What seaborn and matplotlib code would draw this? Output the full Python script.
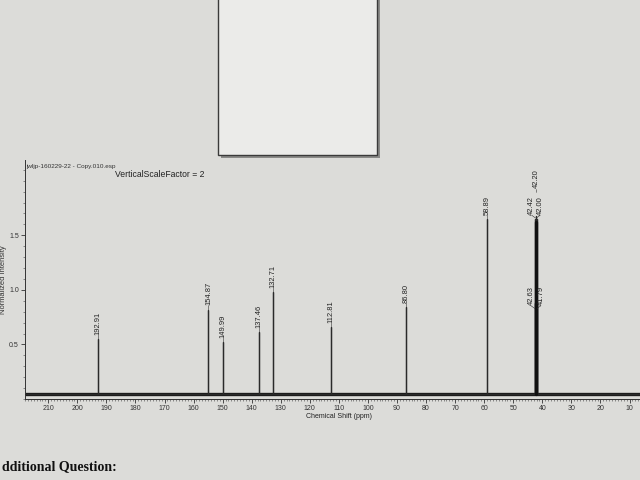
import matplotlib
matplotlib.use("Agg")
import matplotlib.pyplot as plt
from matplotlib.patches import Rectangle
from matplotlib.ticker import MultipleLocator
import seaborn as sns
import pandas as pd

# ---- data ----
peak_ppm = [192.91, 154.87, 149.99, 137.46, 132.71, 112.81, 86.80, 58.89,
            42.63, 42.42, 42.20, 42.00, 41.79]
peak_int = [0.55, 0.82, 0.52, 0.61, 0.98, 0.66, 0.84, 1.65,
            0.88, 1.65, 1.68, 1.65, 0.88]
peak_labels = ["192.91", "154.87", "149.99", "137.46", "132.71", "112.81",
               "86.80", "58.89", "42.63", "42.42", "42.20", "42.00", "41.79"]
baseline_int = 0.05
x_ticks = [210, 200, 190, 180, 170, 160, 150, 140, 130, 120, 110, 100,
           90, 80, 70, 60, 50, 40, 30, 20, 10]
y_ticks = [0.5, 1.0, 1.5]
file_title = "jwljp-160229-22 - Copy.010.esp"
scale_note = "VerticalScaleFactor = 2"
x_title = "Chemical Shift (ppm)"
y_title = "Normalized Intensity"
page_text = "dditional Question:"

# ---- build the stick spectrum table ----
x_hi, x_lo = 218.0, 2.0
xs, ys = [x_hi], [baseline_int]
for p, h in sorted(zip(peak_ppm, peak_int), key=lambda t: -t[0]):
    xs += [p, p, p]
    ys += [baseline_int, h, baseline_int]
xs.append(x_lo)
ys.append(baseline_int)
spec = pd.DataFrame({"ppm": xs, "intensity": ys})

sns.set_theme(style="ticks")
plt.rcParams["font.family"] = ["Liberation Sans", "DejaVu Sans"]
paper = "#dcdcd9"

fig = plt.figure(figsize=(6.4, 4.8), dpi=100, facecolor=paper)
ax = fig.add_axes([25 / 640, 1 - 399 / 480, 1 - 25 / 640 + 0.02, (399 - 160) / 480])
ax.set_facecolor("none")

# baseline noise band
ax.plot([x_hi, x_lo], [baseline_int, baseline_int], color="#1a1a1a", lw=2.4,
        solid_capstyle="butt", zorder=2)
sns.lineplot(data=spec, x="ppm", y="intensity", sort=False, estimator=None,
             color="#2a2a2a", lw=0.9, ax=ax, zorder=3)
# thicker main multiplet
ax.plot([42.2, 42.2], [baseline_int, 1.62], color="#111111", lw=2.4, zorder=3)

# peak labels
lab_dx = {"42.63": 1.3, "42.42": 1.3, "42.20": 0.0, "42.00": -1.3, "41.79": -1.3}
lab_base = {"42.63": 0.86, "42.42": 1.69, "42.20": 1.93, "42.00": 1.69, "41.79": 0.86}
for p, h, t in zip(peak_ppm, peak_int, peak_labels):
    lx = p + lab_dx.get(t, 0.0)
    ly = lab_base.get(t, h + 0.04)
    if t in lab_dx:
        ax.plot([lx, p], [ly - 0.005, ly - 0.03], color="#333333", lw=0.4, zorder=3)
    else:
        ax.plot([p, p], [h, ly], color="#333333", lw=0.4, zorder=3)
    ax.text(lx, ly, t, rotation=90, ha="center", va="bottom", fontsize=5.4,
            color="#222222", zorder=4)

ax.set_xlim(x_hi, x_lo)
ax.set_ylim(0.0, 2.19)
ax.set_xticks(x_ticks)
ax.set_xticklabels([str(v) for v in x_ticks])
ax.xaxis.set_minor_locator(MultipleLocator(1))
ax.set_yticks(y_ticks)
ax.set_yticklabels([f"{v:.1f}" for v in y_ticks])
ax.yaxis.set_minor_locator(MultipleLocator(0.1))
ax.tick_params(axis="both", which="major", labelsize=5, length=3, width=0.6,
               pad=1.5, colors="#333333")
ax.tick_params(axis="both", which="minor", length=1.5, width=0.4, colors="#444444")
ax.set_xlabel(x_title, fontsize=5, labelpad=0.5, color="#222222")
ax.set_ylabel(y_title, fontsize=5.4, labelpad=1.5, color="#333333")
for s in ("top", "right"):
    ax.spines[s].set_visible(False)
for s in ("left", "bottom"):
    ax.spines[s].set_linewidth(0.7)
    ax.spines[s].set_color("#333333")

ax.text(0.002, 0.985, file_title, transform=ax.transAxes, fontsize=4.6,
        ha="left", va="top", color="#333333")
ax.text(0.143, 0.96, scale_note, transform=ax.transAxes, fontsize=6.2,
        ha="left", va="top", color="#222222")

# blank box at top of the page
fig.patches.append(Rectangle((221 / 640, 1 - 158 / 480), 159 / 640, 0.4,
                             transform=fig.transFigure, facecolor="#8a8a88",
                             edgecolor="none", zorder=0))
fig.patches.append(Rectangle((218 / 640, 1 - 155 / 480), 159 / 640, 0.4,
                             transform=fig.transFigure, facecolor="#ebebe9",
                             edgecolor="#3a3a3a", lw=1.0, zorder=1))

fig.text(0.003, 1 - 467 / 480, page_text, fontsize=10, fontweight="bold",
         family=["Liberation Serif", "DejaVu Serif"], color="#111111",
         ha="left", va="center")

fig.savefig("out.png", dpi=100, facecolor=paper)
